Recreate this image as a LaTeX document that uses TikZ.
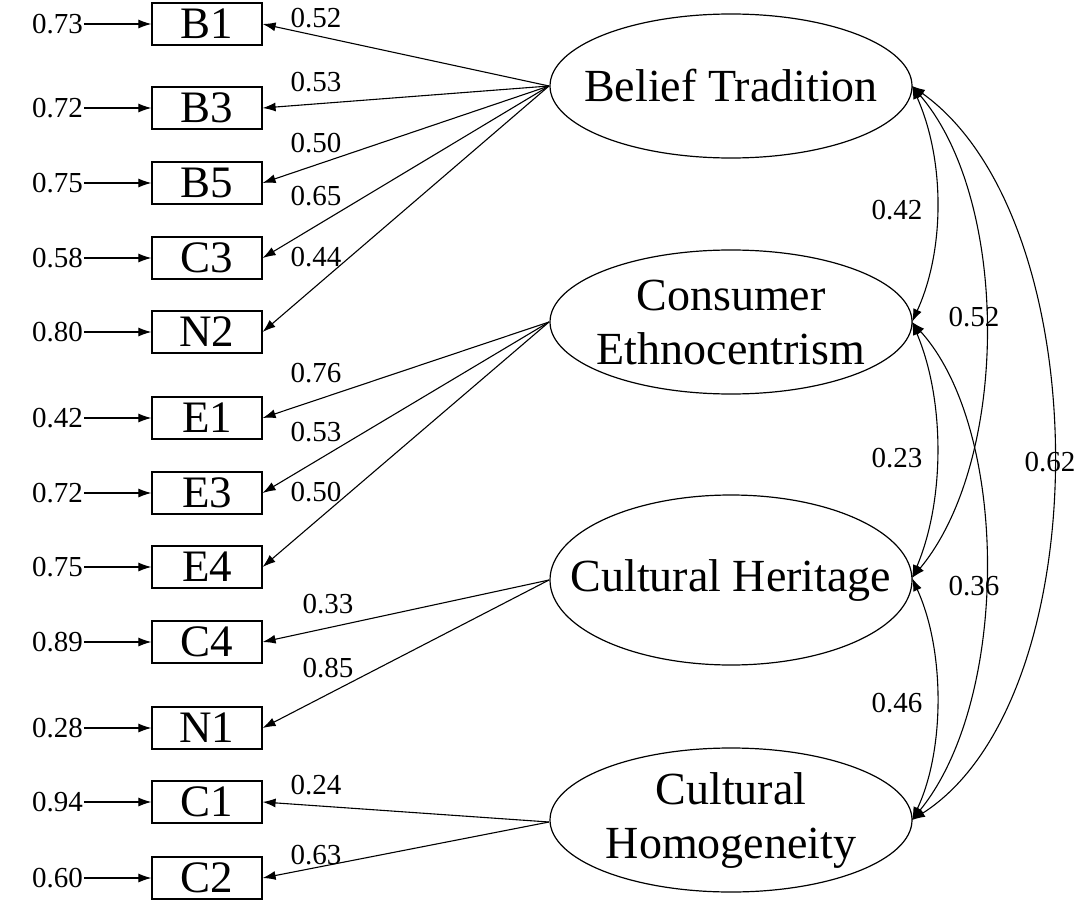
\documentclass[tikz,border=0pt]{standalone}
\usepackage{fontspec}
\setmainfont{Liberation Serif}
\usetikzlibrary{arrows.meta,shapes.geometric}
\begin{document}
\begin{tikzpicture}[x=1pt,y=-1pt,
 ind/.style={draw,line width=1.2pt,minimum width=110pt,minimum height=42pt,inner sep=0pt,font=\fontsize{45}{48}\selectfont},
 lat/.style={draw,ellipse,line width=1.2pt,minimum width=362pt,minimum height=144pt,inner sep=0pt},
 ltxt/.style={align=center,inner sep=0pt,font=\fontsize{46}{54}\selectfont},
 num/.style={font=\fontsize{29}{31}\selectfont,inner sep=1pt},
 arr/.style={-{Latex[length=13pt,width=9pt]},line width=1.1pt},
 cov/.style={{Latex[length=13pt,width=9pt]}-{Latex[length=13pt,width=9pt]},line width=1.1pt}]
\useasboundingbox (0,0) rectangle (1086,920);
\node[lat] (BT) at (731,86) {};
\node[lat] (CE) at (731,322) {};
\node[lat,minimum height=170pt] (CH) at (731,580) {};
\node[lat] (HG) at (731,820) {};
\node[ltxt] (tBT) at (BT) {Belief Tradition};
\node[ltxt] (tCE) at (CE) {Consumer\\Ethnocentrism};
\node[ltxt] (tCH) at (CH) {Cultural Heritage};
\node[ltxt] (tHG) at (HG) {Cultural\\Homogeneity};
\foreach \n/\y/\e in {B1/24/0.73,B3/108/0.72,B5/183/0.75,C3/258/0.58,N2/332/0.80,E1/418/0.42,E3/493/0.72,E4/567/0.75,C4/642/0.89,N1/728/0.28,C1/802/0.94,C2/878/0.60}{
 \node[ind] (\n) at (207,\y) {\n};
 \node[num,anchor=east] (e\n) at (84,\y) {\e};
 \draw[arr] (e\n.east) -- (\n.west);
}
\coordinate (pBT) at (549,86);
\coordinate (pCE) at (549,322);
\coordinate (pCH) at (549,580);
\coordinate (pHG) at (549,822);
\foreach \n/\s in {B1/BT,B3/BT,B5/BT,C3/BT,N2/BT,E1/CE,E3/CE,E4/CE,C4/CH,N1/CH,C1/HG,C2/HG}{
 \draw[arr] (p\s) -- (\n.east);
}
\node[num] (l1) at (316,18) {0.52};
\node[num] (l2) at (316,82) {0.53};
\node[num] (l3) at (316,143) {0.50};
\node[num] (l4) at (316,196) {0.65};
\node[num] (l5) at (316,257) {0.44};
\node[num] (l6) at (316,373) {0.76};
\node[num] (l7) at (316,432) {0.53};
\node[num] (l8) at (316,492) {0.50};
\node[num] (l9) at (328,604) {0.33};
\node[num] (l10) at (328,668) {0.85};
\node[num] (l11) at (316,785) {0.24};
\node[num] (l12) at (316,855) {0.63};
\coordinate (rBT) at (912,86);
\coordinate (rCE) at (912,322);
\coordinate (rCH) at (912,578);
\coordinate (rHG) at (912,820);
\draw[cov] (rBT) .. controls (945,160) and (945,250) .. (rCE);
\draw[cov] (rCE) .. controls (945,400) and (945,500) .. (rCH);
\draw[cov] (rCH) .. controls (945,650) and (945,750) .. (rHG);
\draw[cov] (rBT) .. controls (1010,200) and (1010,460) .. (rCH);
\draw[cov] (rCE) .. controls (1010,430) and (1010,700) .. (rHG);
\draw[cov] (rBT) .. controls (1100,220) and (1100,700) .. (rHG);
\node[num] at (897,210) {0.42};
\node[num] at (897,458) {0.23};
\node[num] at (897,703) {0.46};
\node[num] at (974,317) {0.52};
\node[num] at (974,586) {0.36};
\node[num] at (1050,462) {0.62};
\end{tikzpicture}
\end{document}
